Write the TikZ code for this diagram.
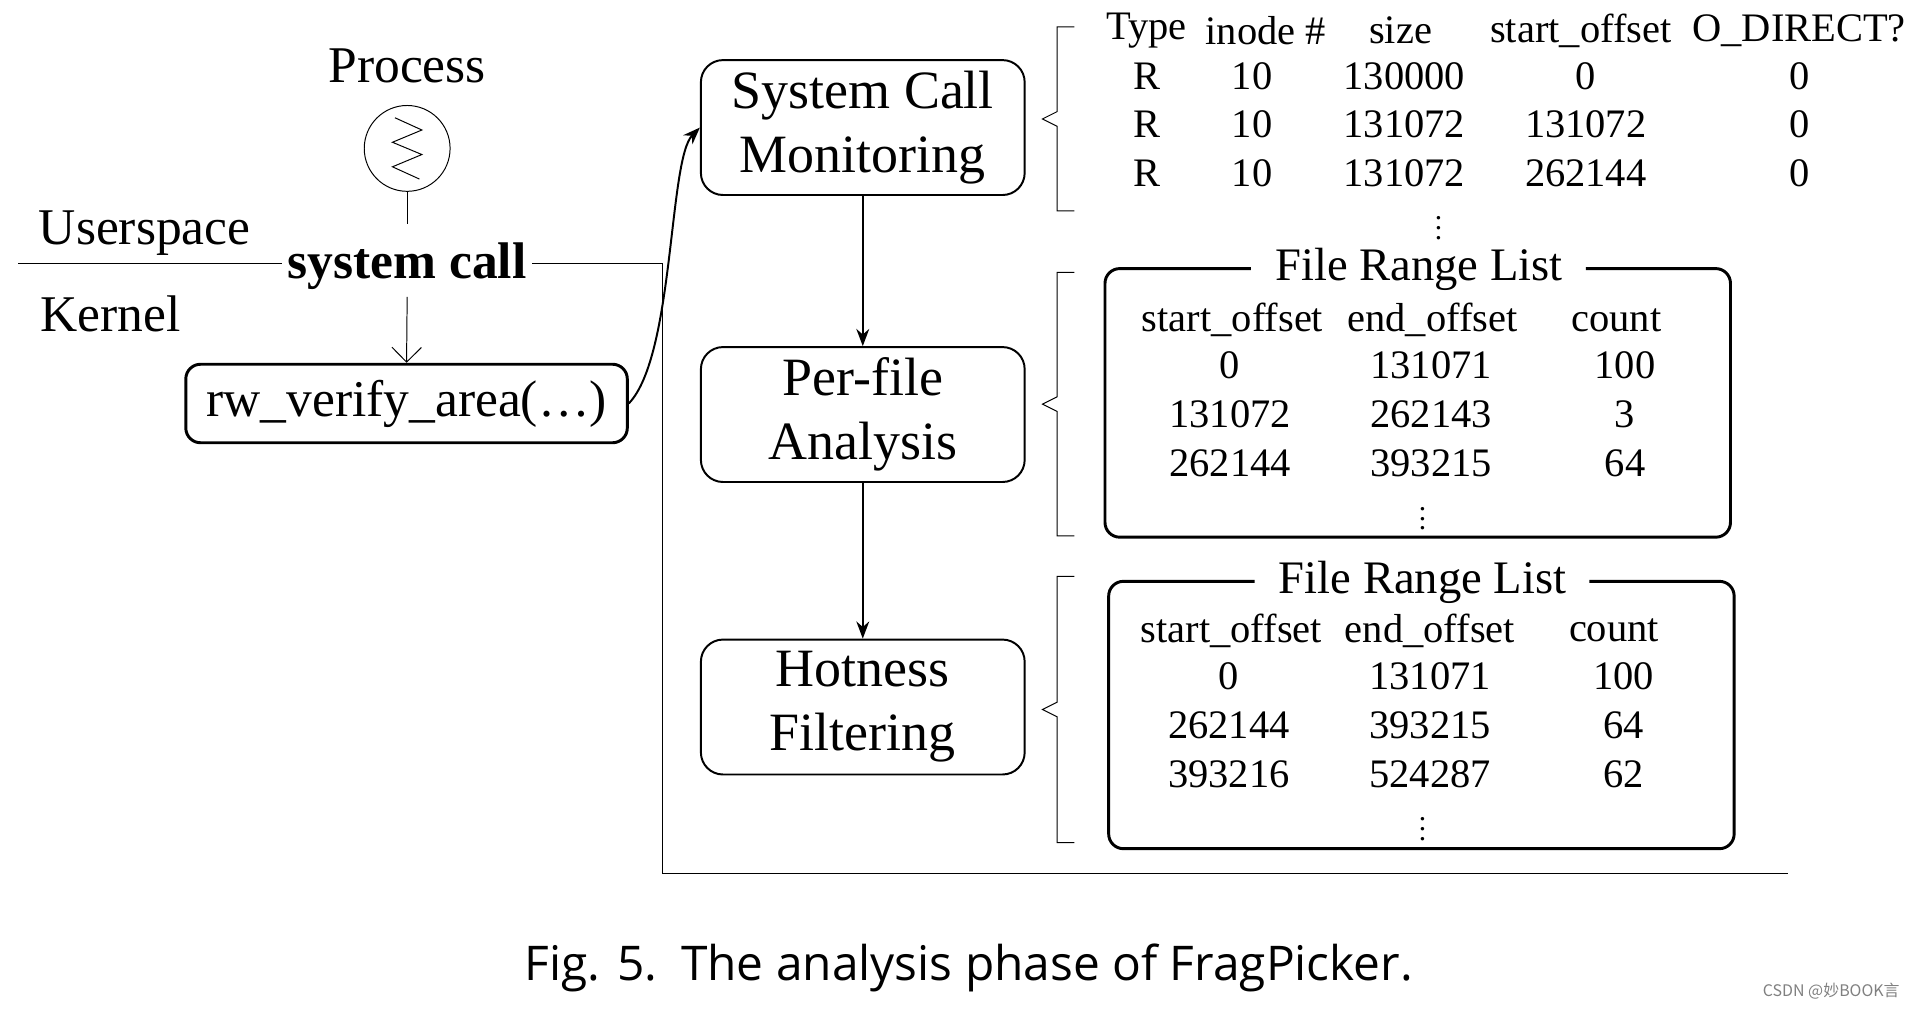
\documentclass[tikz,border=0pt]{standalone}
\usepackage{fontspec}
\setmainfont{Liberation Serif}
\newfontfamily\capfont{Open Sans}
\newfontfamily\cjk{Noto Sans CJK SC}
\usetikzlibrary{arrows.meta}
\begin{document}
\begin{tikzpicture}[x=0.5pt,y=-0.5pt,
  big/.style={font=\fontsize{22}{26}\selectfont},
  mid/.style={font=\fontsize{21}{24}\selectfont},
  tab/.style={font=\fontsize{16.5}{19}\selectfont,inner sep=1pt},
  dots/.style={font=\fontsize{12}{14}\selectfont,inner sep=0pt},
  stage/.style={draw,thick,rounded corners=9pt,minimum width=132pt,minimum height=55pt,align=center,big},
  rng/.style={draw,very thick,rounded corners=6pt},
  brk/.style={thin},
  arr/.style={-{Stealth[length=7pt]},thick}]
\useasboundingbox (0,0) rectangle (1568,826);
% userspace / kernel
\node (proc) [mid] at (332,54) {Process};
\node (pc) [draw,thin,circle,minimum size=35pt] at (332,121) {};
\draw[thin] (322,96) -- (344,106) -- (320,116) -- (344,126) -- (320,136) -- (342,146);
\node (sc) [font=\fontsize{21}{24}\selectfont\bfseries,inner sep=2pt] at (332,217) {system call};
\draw[thin] (pc.south) -- (332,183);
\node (us) [mid] at (118,190) {Userspace};
\node (kn) [mid] at (90,256) {Kernel};
\coordinate (l0) at (15,215);
\coordinate (r0) at (540,215);
\coordinate (r1) at (540,712);
\coordinate (r2) at (1458,712);
\draw[thin] (l0) -- (sc.west |- l0);
\draw[thin] (sc.east |- r0) -- (r0) -- (r1) -- (r2);
\node (rw) [draw,very thick,rounded corners=6pt,minimum width=180pt,minimum height=32pt,mid] at (331.5,329) {rw\_verify\_area(\dots)};
\draw[-{Straight Barb[length=6pt]},thin] (332,242) -- (rw.north);
% stages
\node (m) [stage] at (703.5,104) {\rule{0pt}{14pt}System Call\\Monitoring};
\node (a) [stage] at (703.5,338) {\rule{0pt}{14pt}Per-file\\Analysis};
\node (h) [stage] at (703.5,576.5) {\rule{0pt}{14pt}Hotness\\Filtering};
\draw[arr] (m.south) -- (a.north);
\draw[arr] (a.south) -- (h.north);
\draw[arr] (rw.east) .. controls (550,290) and (545,130) .. (m.west);
% brackets
\foreach \t/\b in {22/172,222/437,470/687}{
  \draw[brk] (876,\t) -- (862,\t) -- (862,{(\t+\b)/2-6}) -- (850,{(\t+\b)/2}) -- (862,{(\t+\b)/2+6}) -- (862,\b) -- (876,\b);
}
% table 1
\foreach \x/\s in {935/Type,1032/inode \#,1142/size,1289/start\_offset,1467/O\_DIRECT?}
  \node[tab] at (\x,25) {\s};
\foreach \y/\c/\d/\e/\f in {62/10/130000/0/0,101/10/131072/131072/0,141/10/131072/262144/0}{
  \node[tab] at (935,\y) {R};
  \node[tab] at (1021,\y) {\c};
  \node[tab] at (1145,\y) {\d};
  \node[tab] at (1293,\y) {\e};
  \node[tab] at (1467,\y) {\f};
}
\node[dots] at (1173,180) {$\vdots$};
% range list 1
\draw[rng] (1020,219) -- (901,219) -- (901,438) -- (1411,438) -- (1411,219) -- (1293,219);
\node[font=\fontsize{19}{22}\selectfont] at (1157,220) {File Range List};
\foreach \x/\s in {1005/start\_offset,1168/end\_offset,1318/count}
  \node[tab] at (\x,261) {\s};
\foreach \y/\p/\q/\r in {298/0/131071/100,338/131072/262143/3,378/262144/393215/64}{
  \node[tab] at (1003,\y) {\p};
  \node[tab] at (1167,\y) {\q};
  \node[tab] at (1325,\y) {\r};
}
\node[dots] at (1160,417) {$\vdots$};
% range list 2
\draw[rng] (1023,474) -- (904,474) -- (904,692) -- (1414,692) -- (1414,474) -- (1296,474);
\node[font=\fontsize{19}{22}\selectfont] at (1160,475) {File Range List};
\foreach \x/\s in {1004/start\_offset,1166/end\_offset,1316/count}
  \node[tab] at (\x,514) {\s};
\foreach \y/\p/\q/\r in {551/0/131071/100,591/262144/393215/64,631/393216/524287/62}{
  \node[tab] at (1002,\y) {\p};
  \node[tab] at (1166,\y) {\q};
  \node[tab] at (1324,\y) {\r};
}
\node[dots] at (1160,670) {$\vdots$};
% caption
\node[font=\capfont\fontsize{19.5}{22}\selectfont] at (790,789) {Fig. 5.\enspace The analysis phase of FragPicker.};
\node[font=\cjk\fontsize{6.5}{8}\selectfont,text=gray,anchor=east] at (1556,808) {CSDN @妙BOOK言};
\end{tikzpicture}
\end{document}
